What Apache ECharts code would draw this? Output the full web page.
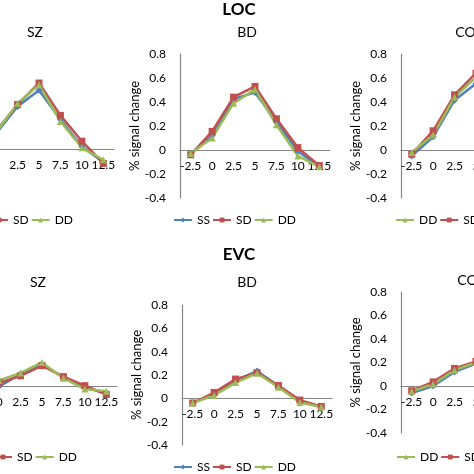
<!DOCTYPE html>
<html>
<head>
<meta charset="utf-8">
<script src="https://cdn.jsdelivr.net/npm/echarts@6/dist/echarts.min.js"></script>
<style>
  html, body { margin: 0; padding: 0; background: #fff; overflow: hidden; width: 474px; height: 474px; }
  #main { position: absolute; left: -100px; top: 0; width: 700px; height: 474px; }
</style>
</head>
<body>
<div id="main"></div>
<script>
// time points (s)
const cats = ['-2.5', '0', '2.5', '5', '7.5', '10', '12.5'];

// LOC
const locSzSS = [-0.03, 0.13, 0.355, 0.49, 0.245, 0.02, -0.11];
const locSzSD = [-0.03, 0.15, 0.37, 0.55, 0.28, 0.065, -0.12];
const locSzDD = [-0.02, 0.14, 0.38, 0.535, 0.23, 0.01, -0.09];

const locBdSS = [-0.03, 0.12, 0.425, 0.48, 0.235, -0.01, -0.14];
const locBdSD = [-0.04, 0.155, 0.44, 0.53, 0.26, 0.02, -0.13];
const locBdDD = [-0.03, 0.10, 0.39, 0.505, 0.21, -0.05, -0.14];

const locCoSS = [-0.05, 0.11, 0.415, 0.555, 0.45, 0.15, -0.05];
const locCoSD = [-0.035, 0.16, 0.46, 0.64, 0.5, 0.2, -0.03];
const locCoDD = [-0.02, 0.125, 0.44, 0.605, 0.48, 0.17, -0.04];

// EVC
const evcSzSS = [-0.03, 0.0, 0.105, 0.19, 0.077, -0.01, -0.06];
const evcSzSD = [-0.03, 0.03, 0.09, 0.177, 0.083, 0.006, -0.07];
const evcSzDD = [-0.02, 0.05, 0.115, 0.205, 0.07, -0.023, -0.043];

const evcBdSS = [-0.04, 0.035, 0.15, 0.235, 0.105, -0.02, -0.075];
const evcBdSD = [-0.04, 0.05, 0.165, 0.22, 0.11, -0.015, -0.07];
const evcBdDD = [-0.04, 0.025, 0.135, 0.215, 0.095, -0.035, -0.075];

const evcCoSS = [-0.06, 0.0, 0.12, 0.19, 0.12, 0.02, -0.05];
const evcCoSD = [-0.04, 0.035, 0.15, 0.21, 0.14, 0.03, -0.04];
const evcCoDD = [-0.045, 0.015, 0.135, 0.2, 0.13, 0.025, -0.045];

const yMin = -0.4, yMax = 0.8;

const OFF = 100; // page x -> container x
const FONT = 'Lato, "Open Sans", sans-serif';
const colors = { SS: '#4F81BD', SD: '#C0504D', DD: '#9BBB59' };
const symbols = { SS: 'diamond', SD: 'rect', DD: 'triangle' };

const panels = [
  { title: 'SZ', tx: 35, ty: 32, left: -36, top: 53, h: 144, lx: -50, ly: 221, order: ['SS', 'SD', 'DD'], d: { SS: locSzSS, SD: locSzSD, DD: locSzDD } },
  { title: 'BD', tx: 247, ty: 32, left: 180, top: 54, h: 144, lx: 173, ly: 221, order: ['SS', 'SD', 'DD'], d: { SS: locBdSS, SD: locBdSD, DD: locBdDD } },
  { title: 'COL', tx: 469, ty: 32, left: 401, top: 54, h: 144, lx: 395, ly: 221, order: ['DD', 'SD', 'SS'], d: { SS: locCoSS, SD: locCoSD, DD: locCoDD } },
  { title: 'SZ', tx: 38, ty: 282, left: -33, top: 293, h: 140, lx: -46, ly: 458, order: ['SS', 'SD', 'DD'], d: { SS: evcSzSS, SD: evcSzSD, DD: evcSzDD } },
  { title: 'BD', tx: 247, ty: 282, left: 182, top: 305, h: 140, lx: 173, ly: 468, order: ['SS', 'SD', 'DD'], d: { SS: evcBdSS, SD: evcBdSD, DD: evcBdDD } },
  { title: 'COL', tx: 471, ty: 280, left: 401, top: 292, h: 141, lx: 396, ly: 458, order: ['DD', 'SD', 'SS'], d: { SS: evcCoSS, SD: evcCoSD, DD: evcCoDD } }
];

const grid = [], xAxis = [], yAxis = [], series = [], legend = [], graphic = [];

graphic.push({ type: 'text', x: 239 + OFF, y: 10, style: { text: 'LOC', font: 'bold 17px ' + FONT, fill: '#000', textAlign: 'center', textVerticalAlign: 'middle' } });
graphic.push({ type: 'text', x: 239 + OFF, y: 255, style: { text: 'EVC', font: 'bold 17px ' + FONT, fill: '#000', textAlign: 'center', textVerticalAlign: 'middle' } });

panels.forEach((p, i) => {
  grid.push({ left: p.left + OFF, top: p.top, width: 150, height: p.h, containLabel: false });
  // x axis sits on y = 0: shift it up from the grid bottom
  const zeroShift = -p.h * (0 - yMin) / (yMax - yMin);
  xAxis.push({
    type: 'category', gridIndex: i, data: cats, boundaryGap: true,
    position: 'bottom', offset: zeroShift,
    axisLine: { onZero: false, lineStyle: { color: '#868686', width: 1.2 } },
    axisTick: { show: false },
    axisLabel: { color: '#000', fontFamily: FONT, fontSize: 12, margin: 10, interval: 0 },
    splitLine: { show: false }
  });
  yAxis.push({
    type: 'value', gridIndex: i, min: yMin, max: yMax, interval: 0.2,
    name: '% signal change', nameLocation: 'middle', nameRotate: 90, nameGap: 36,
    nameTextStyle: { color: '#000', fontFamily: FONT, fontSize: 13 },
    axisLine: { show: true, onZero: false, lineStyle: { color: '#868686', width: 1.2 } },
    axisTick: { show: false },
    axisLabel: { color: '#000', fontFamily: FONT, fontSize: 12, margin: 14,
      formatter: v => (Math.abs(v) < 1e-9 ? '0' : (+v.toFixed(1)).toString()) },
    splitLine: { show: false }
  });
  ['SS', 'SD', 'DD'].forEach(k => {
    series.push({
      name: k, type: 'line', xAxisIndex: i, yAxisIndex: i, data: p.d[k],
      symbol: symbols[k], symbolSize: 7, showSymbol: true,
      lineStyle: { color: colors[k], width: 2.5 },
      itemStyle: { color: colors[k] },
      animation: false
    });
  });
  legend.push({
    data: p.order, left: p.lx + OFF, top: p.ly - 7, orient: 'horizontal', padding: 0,
    itemWidth: 18, itemHeight: 6, itemGap: 2,
    textStyle: { color: '#000', fontFamily: FONT, fontSize: 12 },
    selectedMode: false
  });
  graphic.push({ type: 'text', x: p.tx + OFF, y: p.ty, style: { text: p.title, font: '14px ' + FONT, fill: '#000', textAlign: 'center', textVerticalAlign: 'middle' } });
});

const chart = echarts.init(document.getElementById('main'), null, { renderer: 'canvas' });
chart.setOption({
  backgroundColor: '#fff',
  animation: false,
  grid, xAxis, yAxis, series, legend, graphic
});
</script>
</body>
</html>
